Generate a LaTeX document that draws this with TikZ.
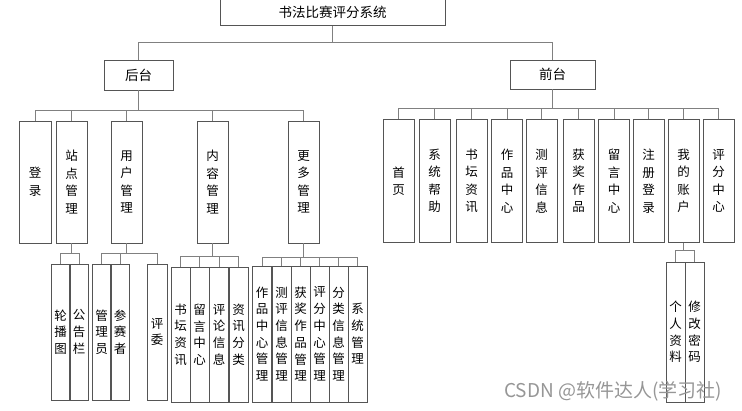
\documentclass[tikz,border=0pt]{standalone}
\usepackage{fontspec}
\usepackage{xcolor}
\usepackage{tikz}
\newfontfamily\cjk{Noto Sans CJK SC}
\definecolor{boxgray}{RGB}{85,85,85}
\definecolor{linegray}{RGB}{128,128,128}
\definecolor{markgray}{RGB}{150,150,150}

\begin{document}
\begin{tikzpicture}[x=1pt, y=-1pt,
        box/.style={draw=boxgray, line width=0.9pt, inner sep=0pt, align=center},
        head/.style={box, font=\cjk\fontsize{13.5}{15}\selectfont},
        mid/.style={box, minimum width=31pt, minimum height=122pt, font=\cjk\fontsize{12.5}{17.5}\selectfont},
        leaf/.style={box, minimum width=19pt, minimum height=136pt, font=\cjk\fontsize{12.5}{16.7}\selectfont},
        link/.style={draw=linegray, line width=0.8pt}]
    \useasboundingbox (0,0) rectangle (742,411);

    % 顶层
    \node[head, minimum width=225pt, minimum height=27pt] (sys) at (332.5,12) {书法比赛评分系统};
    \node[head, minimum width=69pt, minimum height=30pt] (houtai) at (138.5,75) {后台};
    \node[head, minimum width=85pt, minimum height=29pt] (qiantai) at (552.5,74.5) {前台};
    \draw[link] (sys.south) -- ++(0,16.5) -| (houtai.north)
                (sys.south) -- ++(0,16.5) -| (qiantai.north);

    % 后台
    \node[mid, minimum width=32pt] (denglu) at (35,182) {登\\录};
    \node[mid] (zhandian) at (71.5,182) {站\\点\\管\\理};
    \node[mid] (yonghu) at (126.5,182) {用\\户\\管\\理};
    \node[mid] (neirong) at (212.5,182) {内\\容\\管\\理};
    \node[mid] (gengduo) at (303.5,182) {更\\多\\管\\理};
    \draw[link] (houtai.south) -- ++(0,20) -| (denglu.north)
                (houtai.south) -- ++(0,20) -| (zhandian.north)
                (houtai.south) -- ++(0,20) -| (yonghu.north)
                (houtai.south) -- ++(0,20) -| (neirong.north)
                (houtai.south) -- ++(0,20) -| (gengduo.north);

    % 前台
    \node[mid, minimum height=123pt] (shouye) at (398.5,181) {首\\页};
    \node[mid, minimum height=123pt] (bangzhu) at (434.5,181) {系\\统\\帮\\助};
    \node[mid, minimum height=123pt] (zixun) at (471.5,181) {书\\坛\\资\\讯};
    \node[mid, minimum height=123pt] (zuopin) at (507,181) {作\\品\\中\\心};
    \node[mid, minimum height=123pt] (ceping) at (541.5,181) {测\\评\\信\\息};
    \node[mid, minimum height=123pt] (huojiang) at (578.5,181) {获\\奖\\作\\品};
    \node[mid, minimum height=123pt] (liuyan) at (614,181) {留\\言\\中\\心};
    \node[mid, minimum height=123pt] (zhuce) at (648.5,181) {注\\册\\登\\录};
    \node[mid, minimum height=123pt] (zhanghu) at (683.5,181) {我\\的\\账\\户};
    \node[mid, minimum height=123pt] (pingfen) at (718.5,181) {评\\分\\中\\心};
    \draw[link] (qiantai.south) -- ++(0,19) -| (shouye.north)
                (qiantai.south) -- ++(0,19) -| (bangzhu.north)
                (qiantai.south) -- ++(0,19) -| (zixun.north)
                (qiantai.south) -- ++(0,19) -| (zuopin.north)
                (qiantai.south) -- ++(0,19) -| (ceping.north)
                (qiantai.south) -- ++(0,19) -| (huojiang.north)
                (qiantai.south) -- ++(0,19) -| (liuyan.north)
                (qiantai.south) -- ++(0,19) -| (zhuce.north)
                (qiantai.south) -- ++(0,19) -| (zhanghu.north)
                (qiantai.south) -- ++(0,19) -| (pingfen.north);

    % 站点管理 / 用户管理
    \node[leaf] (lunbo) at (60.5,332) {轮\\播\\图};
    \node[leaf] (gonggao) at (79,332) {公\\告\\栏};
    \node[leaf] (guanli) at (101.5,332) {管\\理\\员};
    \node[leaf] (cansai) at (120,332) {参\\赛\\者};
    \node[leaf, minimum width=20pt] (pingwei) at (157,332) {评\\委};
    \draw[link] (zhandian.south) -- ++(0,10) -| (lunbo.north)
                (zhandian.south) -- ++(0,10) -| (gonggao.north)
                (yonghu.south) -- ++(0,10) -| (guanli.north)
                (yonghu.south) -- ++(0,10) -| (cansai.north)
                (yonghu.south) -- ++(0,10) -| (pingwei.north);

    % 内容管理
    \node[leaf, minimum height=135pt] (shutan) at (180.5,334.5) {书\\坛\\资\\讯};
    \node[leaf, minimum height=135pt] (liuyanzx) at (199.5,334.5) {留\\言\\中\\心};
    \node[leaf, minimum height=135pt] (pinglun) at (219,334.5) {评\\论\\信\\息};
    \node[leaf, minimum height=135pt] (fenlei) at (238.5,334.5) {资\\讯\\分\\类};
    \draw[link] (neirong.south) -- ++(0,13) -| (shutan.north)
                (neirong.south) -- ++(0,13) -| (liuyanzx.north)
                (neirong.south) -- ++(0,13) -| (pinglun.north)
                (neirong.south) -- ++(0,13) -| (fenlei.north);

    % 更多管理
    \node[leaf] (zpgl) at (262,334) {作\\品\\中\\心\\管\\理};
    \node[leaf] (cpgl) at (281.5,334) {测\\评\\信\\息\\管\\理};
    \node[leaf] (hjgl) at (300.5,334) {获\\奖\\作\\品\\管\\理};
    \node[leaf] (pfgl) at (319.5,334) {评\\分\\中\\心\\管\\理};
    \node[leaf] (flgl) at (338.5,334) {分\\类\\信\\息\\管\\理};
    \node[leaf] (xtgl) at (357.5,334) {系\\统\\管\\理};
    \draw[link] (gengduo.south) -- ++(0,14) -| (zpgl.north)
                (gengduo.south) -- ++(0,14) -| (cpgl.north)
                (gengduo.south) -- ++(0,14) -| (hjgl.north)
                (gengduo.south) -- ++(0,14) -| (pfgl.north)
                (gengduo.south) -- ++(0,14) -| (flgl.north)
                (gengduo.south) -- ++(0,14) -| (xtgl.north);

    % 我的账户
    \node[leaf, minimum height=140pt] (geren) at (675.5,332) {个\\人\\资\\料};
    \node[leaf, minimum height=140pt] (xiugai) at (694.5,332) {修\\改\\密\\码};
    \draw[link] (zhanghu.south) -- ++(0,7.5) -| (geren.north)
                (zhanghu.south) -- ++(0,7.5) -| (xiugai.north);

    % 水印
    \node[anchor=west, inner sep=0pt, text=markgray, font=\cjk\fontsize{19}{21}\selectfont] (mark) at (504,391) {CSDN @软件达人(学习社)};
\end{tikzpicture}
\end{document}
